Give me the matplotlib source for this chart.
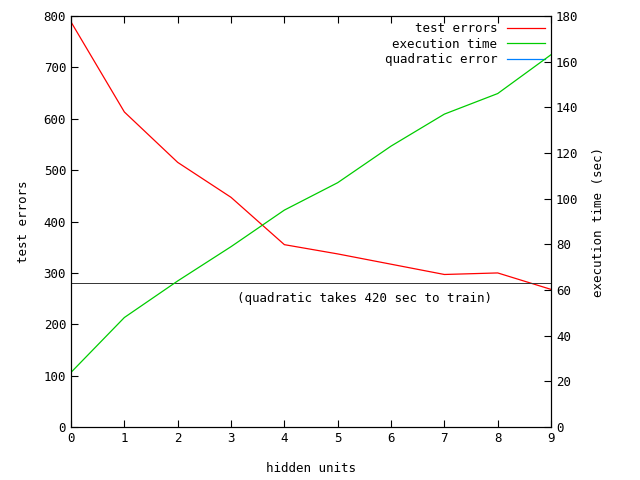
import matplotlib.pyplot as plt
from matplotlib.lines import Line2D

hidden_units = [0, 1, 2, 3, 4, 5, 6, 7, 8, 9]
test_errors = [788, 613, 515, 447, 355, 337, 317, 297, 300, 268]
exec_time = [24, 48, 64, 79, 95, 107, 123, 137, 146, 163]
quadratic_error = 280

plt.rcParams['font.family'] = 'DejaVu Sans Mono'
plt.rcParams['font.size'] = 9

fig = plt.figure(figsize=(6.4, 4.8), dpi=100)
ax = fig.add_axes([0.111, 0.110, 0.750, 0.857])
ax2 = ax.twinx()

l1, = ax.plot(hidden_units, test_errors, color='red', lw=0.9, label='test errors')
l2, = ax2.plot(hidden_units, exec_time, color='#00cc00', lw=0.9, label='execution time')
ax.plot([0, 9], [quadratic_error, quadratic_error], color='#333333', lw=0.7)
l3 = Line2D([], [], color='#0080ff', lw=0.9, label='quadratic error')
ax.text(5.5, 263, '(quadratic takes 420 sec to train)', ha='center', va='top')

ax.set_xlim(0, 9)
ax.set_ylim(0, 800)
ax2.set_ylim(0, 180)
ax.set_xticks(range(10))
ax.set_yticks(range(0, 801, 100))
ax2.set_yticks(range(0, 181, 20))
ax.tick_params(direction='in', top=True, length=5)
ax2.tick_params(direction='in', length=5)
ax.set_xlabel('hidden units', labelpad=12)
ax.set_ylabel('test errors', labelpad=10)
ax2.set_ylabel('execution time (sec)', labelpad=10)

ax.legend(handles=[l1, l2, l3], loc='upper right', frameon=False,
          markerfirst=False, handlelength=3, borderaxespad=0.1,
          labelspacing=0.2)

fig.savefig('out.png')
